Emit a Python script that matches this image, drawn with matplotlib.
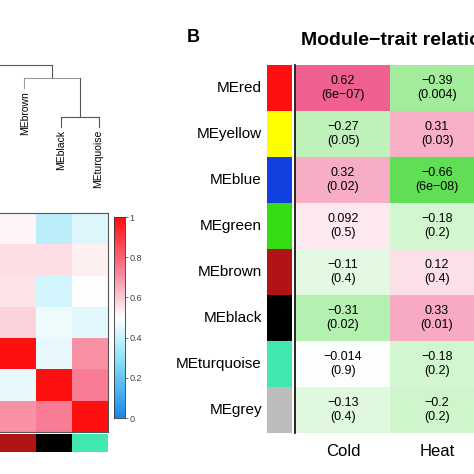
import numpy as np
import matplotlib
matplotlib.use("Agg")
import matplotlib.pyplot as plt
from matplotlib.colors import LinearSegmentedColormap

plt.rcParams['font.family'] = ['Liberation Sans', 'DejaVu Sans']

# ---- data ----
modules = ["MEred", "MEyellow", "MEblue", "MEgreen", "MEbrown", "MEblack", "MEturquoise", "MEgrey"]
module_colors = ["#ff1010", "#ffff00", "#1040e0", "#33dd11", "#b01414", "#000000", "#40e8b0", "#bcbcbc"]
traits = ["Cold", "Heat"]
cor_cold = [0.62, -0.27, 0.32, 0.092, -0.11, -0.31, -0.014, -0.13]
cor_heat = [-0.39, 0.31, -0.66, -0.18, 0.12, 0.33, -0.18, -0.2]
p_cold = ["6e\u221207", "0.05", "0.02", "0.5", "0.4", "0.02", "0.9", "0.4"]
p_heat = ["0.004", "0.03", "6e\u221208", "0.2", "0.4", "0.01", "0.2", "0.2"]

# eigengene adjacency (7 modules, last 3 visible)
adj_colors = ["#ff1010", "#ffff00", "#1040e0", "#33dd11", "#b01414", "#000000", "#40e8b0"]
adjacency = np.array([
    [1.00, 0.60, 0.55, 0.55, 0.52, 0.38, 0.44],
    [0.60, 1.00, 0.70, 0.80, 0.56, 0.56, 0.53],
    [0.55, 0.70, 1.00, 0.85, 0.55, 0.42, 0.50],
    [0.55, 0.80, 0.85, 1.00, 0.58, 0.47, 0.45],
    [0.52, 0.56, 0.55, 0.58, 1.00, 0.46, 0.70],
    [0.38, 0.56, 0.42, 0.47, 0.46, 1.00, 0.74],
    [0.44, 0.53, 0.50, 0.45, 0.70, 0.74, 1.00],
])
cbar_ticks = [0, 0.2, 0.4, 0.6, 0.8, 1]
dendro_labels = ["MEbrown", "MEblack", "MEturquoise"]
# merge heights (pixel rows)
h_top, h_mid, h_low = 65, 78, 117

W = 474
fig = plt.figure(figsize=(4.74, 4.74), dpi=100)

def ax_px(x0, y0, x1, y1):
    return fig.add_axes([x0 / W, (W - y1) / W, (x1 - x0) / W, (y1 - y0) / W])

# ---- left panel ----
cmapA = LinearSegmentedColormap.from_list(
    "bwr2", [(0, "#1a88e8"), (0.3, "#90e4f8"), (0.5, "#ffffff"), (0.75, "#f87890"), (1, "#ff1010")])
n = adjacency.shape[0]
cw = 36
axA = ax_px(108 - n * cw, 213, 108, 432)
axA.imshow(adjacency, cmap=cmapA, vmin=0, vmax=1, aspect="auto", interpolation="nearest")
axA.set_xticks([]); axA.set_yticks([])
for s in axA.spines.values():
    s.set_color("#555555"); s.set_linewidth(0.8)

axS = ax_px(108 - n * cw, 434, 108, 452)
axS.imshow(np.arange(n)[None, :], cmap=matplotlib.colors.ListedColormap(adj_colors), aspect="auto")
axS.axis("off")

axC = ax_px(114, 217, 125, 418)
grad = np.linspace(0, 1, 200)[:, None]
axC.imshow(grad, cmap=cmapA, aspect="auto", origin="lower", extent=[0, 1, 0, 1])
axC.set_xticks([])
axC.yaxis.tick_right()
axC.set_yticks(cbar_ticks)
axC.set_yticklabels([f"{t:g}" for t in cbar_ticks], fontsize=6.5, color="#444444")
axC.tick_params(axis="y", length=2, width=0.5, colors="#444444", pad=1)
for s in axC.spines.values():
    s.set_color("#333333"); s.set_linewidth(0.6)

# overlay axes for dendrogram & texts in pixels
ov = fig.add_axes([0, 0, 1, 1], zorder=-1)
ov.set_xlim(0, W); ov.set_ylim(W, 0); ov.axis("off")
lc = "#555555"
ov.plot([0, 52], [h_top, h_top], color=lc, lw=0.8)
ov.plot([52, 52], [h_top, h_mid], color=lc, lw=0.8)
ov.plot([24, 80], [h_mid, h_mid], color="#999999", lw=0.8)
ov.plot([24, 24], [h_mid, 88], color="#999999", lw=0.8)
ov.plot([80, 80], [h_mid, h_low], color=lc, lw=0.8)
ov.plot([61, 99], [h_low, h_low], color=lc, lw=0.8)
ov.plot([61, 61], [h_low, 127], color=lc, lw=0.8)
ov.plot([99, 99], [h_low, 127], color=lc, lw=0.8)
ov.text(25, 91, dendro_labels[0], rotation=90, ha="center", va="top", fontsize=7.5)
ov.text(61, 130, dendro_labels[1], rotation=90, ha="center", va="top", fontsize=7.5)
ov.text(98, 130, dendro_labels[2], rotation=90, ha="center", va="top", fontsize=7.5)

# ---- right panel ----
ov.text(187, 37, "B", fontsize=13, fontweight="bold", va="center")
ov.text(301, 40, "Module\u2212trait relationships", fontsize=14, fontweight="bold", va="center")

nr = len(modules)
axM = ax_px(267, 65, 292, 433)
axM.imshow(np.arange(nr)[:, None], cmap=matplotlib.colors.ListedColormap(module_colors), aspect="auto")
axM.axis("off")
rh = (433 - 65) / nr
for i, m in enumerate(modules):
    ov.text(262, 65 + rh * (i + 0.5), m, ha="right", va="center", fontsize=11)

cmapB = LinearSegmentedColormap.from_list("gwr", ["#10d000", "#ffffff", "#e8004a"])
cor = np.array([cor_cold, cor_heat]).T
axH = ax_px(296, 65, 296 + 2 * 94, 433)
axH.imshow(cor, cmap=cmapB, vmin=-1, vmax=1, aspect="auto", interpolation="nearest")
axH.set_xticks([]); axH.set_yticks([])
for s in axH.spines.values():
    s.set_visible(False)
pv = [p_cold, p_heat]
for i in range(nr):
    for j in range(2):
        v = cor[i, j]
        s = f"{v:g}".replace("-", "\u2212")
        axH.text(j, i, f"{s}\n({pv[j][i]})", ha="center", va="center", fontsize=9, linespacing=1.15)
ov.plot([295, 295], [65, 433], color="black", lw=1.2)
for j, t in enumerate(traits):
    ov.text(296 + 94 * (j + 0.5), 452, t, ha="center", va="center", fontsize=12)

fig.savefig("out.png", dpi=100)
